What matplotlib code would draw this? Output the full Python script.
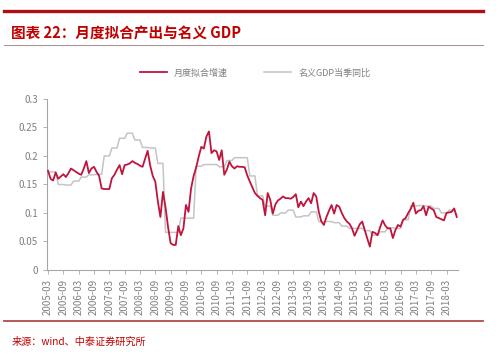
import numpy as np
import pandas as pd
import matplotlib
matplotlib.use('Agg')
import matplotlib.pyplot as plt

plt.rcParams['font.family'] = ['Noto Sans CJK SC', 'DejaVu Sans']

# monthly fitted output growth, 2005-03 .. 2018-07
fitted = [0.174, 0.160, 0.157, 0.171, 0.160, 0.164, 0.168, 0.163, 0.170, 0.178,
          0.175, 0.172, 0.169, 0.167, 0.178, 0.191, 0.170, 0.178, 0.181, 0.172,
          0.165, 0.143, 0.142, 0.142, 0.142, 0.161, 0.167, 0.176, 0.184, 0.168,
          0.184, 0.185, 0.187, 0.191, 0.188, 0.186, 0.183, 0.181, 0.195, 0.209,
          0.183, 0.165, 0.155, 0.120, 0.093, 0.137, 0.110, 0.075, 0.047, 0.044,
          0.044, 0.077, 0.061, 0.073, 0.114, 0.102, 0.143, 0.165, 0.180, 0.199,
          0.216, 0.213, 0.234, 0.243, 0.205, 0.210, 0.208, 0.193, 0.210, 0.167,
          0.176, 0.190, 0.182, 0.178, 0.182, 0.181, 0.181, 0.180, 0.166, 0.155,
          0.145, 0.135, 0.130, 0.126, 0.123, 0.096, 0.135, 0.123, 0.099, 0.115,
          0.122, 0.125, 0.129, 0.126, 0.126, 0.125, 0.128, 0.133, 0.110, 0.120,
          0.112, 0.120, 0.126, 0.117, 0.135, 0.129, 0.102, 0.085, 0.079, 0.093,
          0.104, 0.114, 0.099, 0.114, 0.111, 0.100, 0.091, 0.085, 0.081, 0.073,
          0.060, 0.070, 0.080, 0.085, 0.070, 0.055, 0.041, 0.067, 0.065, 0.061,
          0.075, 0.087, 0.078, 0.073, 0.073, 0.056, 0.070, 0.079, 0.076, 0.088,
          0.091, 0.100, 0.107, 0.118, 0.099, 0.104, 0.105, 0.112, 0.096, 0.111,
          0.108, 0.105, 0.093, 0.091, 0.089, 0.087, 0.100, 0.101, 0.102, 0.108,
          0.093]

# nominal GDP yoy by quarter, 2005Q1 .. 2018Q3
gdp_q = [0.172, 0.172, 0.150, 0.149, 0.156, 0.163, 0.167, 0.168, 0.200, 0.214,
         0.231, 0.240, 0.228, 0.215, 0.214, 0.187, 0.066, 0.066, 0.091, 0.091,
         0.182, 0.185, 0.185, 0.181, 0.192, 0.197, 0.197, 0.165, 0.130, 0.112,
         0.096, 0.100, 0.105, 0.093, 0.095, 0.102, 0.085, 0.085, 0.083, 0.077,
         0.073, 0.073, 0.069, 0.061, 0.067, 0.074, 0.073, 0.088, 0.112, 0.113,
         0.112, 0.108, 0.100, 0.105, 0.097]
months_in_q = [1] + [3] * 53 + [1]

months = pd.date_range('2005-03-01', periods=len(fitted), freq='MS')
gdp = np.repeat(gdp_q, months_in_q)

fig = plt.figure(figsize=(5.0, 3.56), dpi=100)

red = '#C0143C'
grey = '#C4C4C4'
txt = '#7F7F7F'

# header / footer decoration
fig.add_artist(plt.Line2D([0.008, 0.966], [0.969, 0.969], color='#B00D17', lw=2.4))
fig.add_artist(plt.Line2D([0.008, 0.966], [0.874, 0.874], color='#A88C8C', lw=0.7))
fig.text(0.022, 0.907, '图表 22：月度拟合产出与名义 GDP', color='#C00000',
         fontsize=10.5, fontweight='bold', style='italic', va='center')
fig.add_artist(plt.Line2D([0.008, 0.966], [0.098, 0.098], color='#B04A4A', lw=1.3))
fig.text(0.024, 0.04, '来源：wind、中泰证券研究所', color='#C00000', fontsize=7.3, va='center')

ax = fig.add_axes([0.094, 0.2416, 0.822, 0.4804])
x = np.arange(len(fitted))
ax.plot(x, gdp, color=grey, lw=1.1, label='名义GDP当季同比', zorder=2)
ax.plot(x, fitted, color=red, lw=1.3, label='月度拟合增速', zorder=3)

ax.set_xlim(-0.4, len(fitted) - 0.5)
ax.set_ylim(0, 0.3)
ax.set_yticks([0, 0.05, 0.1, 0.15, 0.2, 0.25, 0.3])
ax.set_yticklabels(['0', '0.05', '0.1', '0.15', '0.2', '0.25', '0.3'])
tick_pos = x[::6]
ax.set_xticks(tick_pos)
ax.set_xticklabels([months[i].strftime('%Y-%m') for i in tick_pos], rotation=90)

for s in ['top', 'right']:
    ax.spines[s].set_visible(False)
for s in ['left', 'bottom']:
    ax.spines[s].set_color('#A6A6A6')
    ax.spines[s].set_linewidth(0.8)
ax.tick_params(axis='both', colors='#A6A6A6', labelcolor=txt, labelsize=7, length=3, width=0.6)

h, l = ax.get_legend_handles_labels()
fig.legend(h[::-1], l[::-1], loc='center', bbox_to_anchor=(0.51, 0.795), ncol=2, frameon=False,
           fontsize=6.5, labelcolor=txt, handlelength=3.0, columnspacing=4)

fig.savefig('out.png', dpi=100)
